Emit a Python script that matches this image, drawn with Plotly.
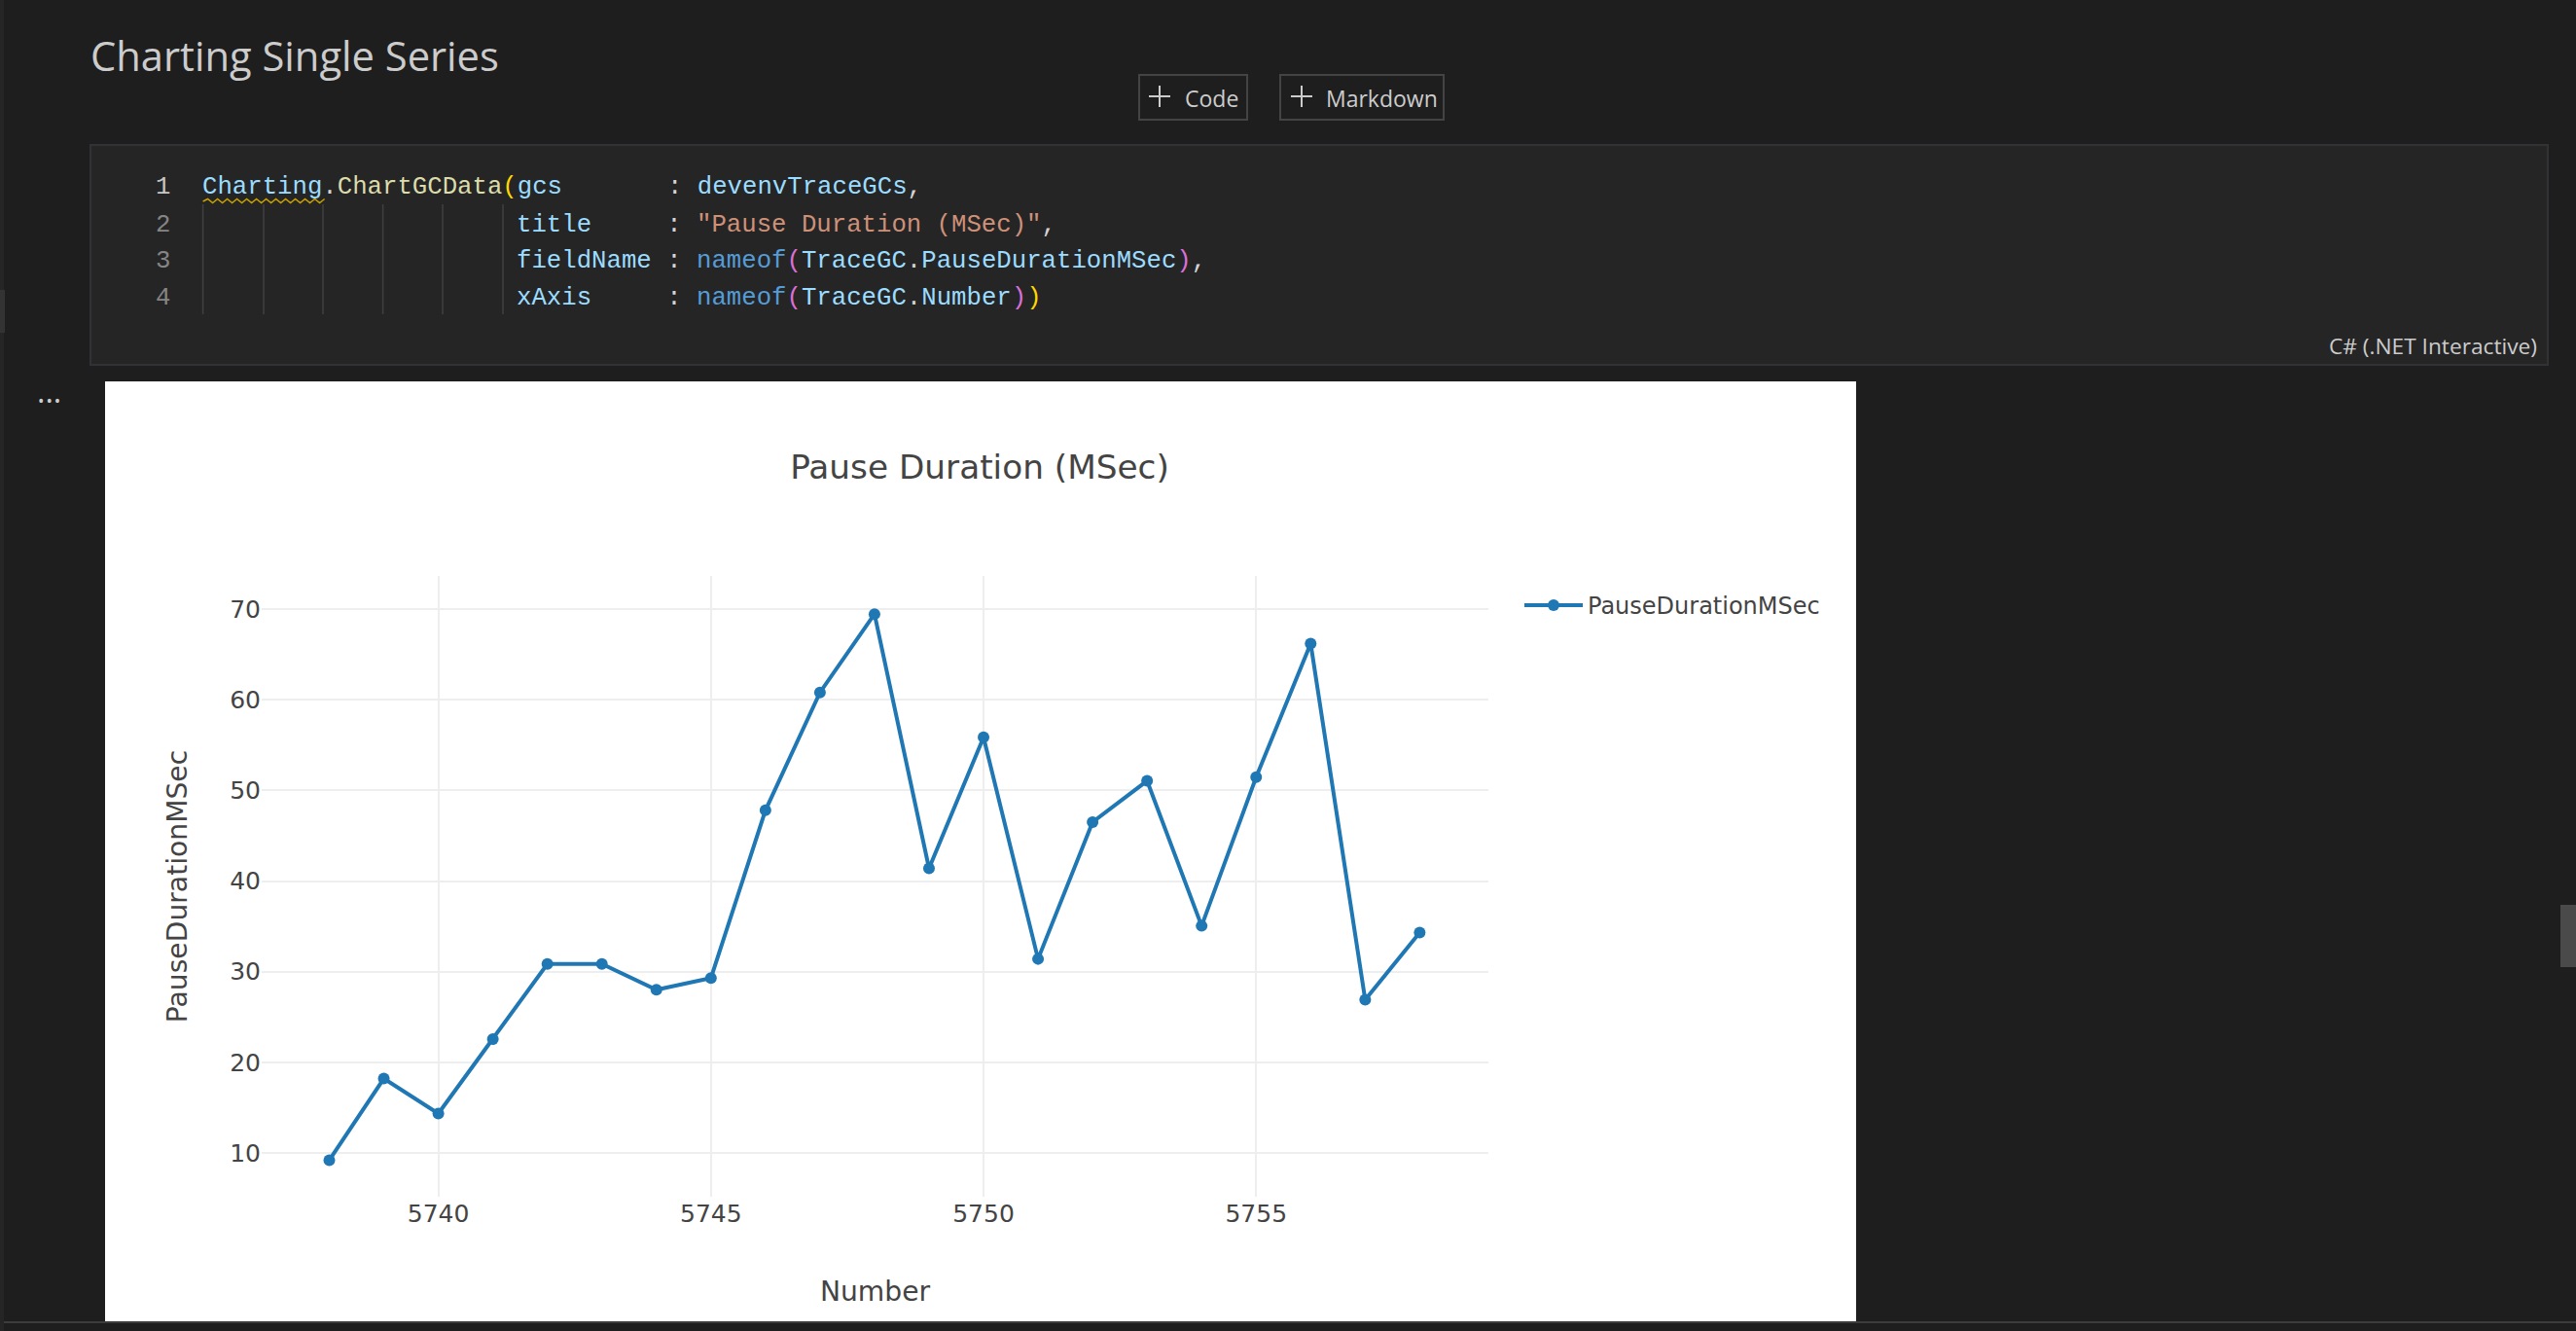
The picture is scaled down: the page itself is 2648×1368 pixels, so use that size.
# %%
import plotly.graph_objects as go

W, H = 2648, 1368

numbers = [5738, 5739, 5740, 5741, 5742, 5743, 5744, 5745, 5746, 5747, 5748,
           5749, 5750, 5751, 5752, 5753, 5754, 5755, 5756, 5757, 5758]
pause_ms = [9.2, 18.2, 14.35, 22.55, 30.85, 30.85, 28.0, 29.3, 47.8, 60.8, 69.45,
            41.4, 55.85, 31.4, 46.5, 51.05, 35.05, 51.45, 66.2, 26.9, 34.3]
x_ticks = [5740, 5745, 5750, 5755]
y_ticks = [10, 20, 30, 40, 50, 60, 70]

VAR, FN, GOLD, STR, KW, PINK, PUNC = "#9cdcfe", "#dcdcaa", "#ffd700", "#ce9178", "#569cd6", "#da70d6", "#d4d4d4"
code_lines = [
    [("Charting", VAR), (".", PUNC), ("ChartGCData", FN), ("(", GOLD), ("gcs", VAR),
     ("       : ", PUNC), ("devenvTraceGCs", VAR), (",", PUNC)],
    [("title", VAR), ("     : ", PUNC), ('"Pause Duration (MSec)"', STR), (",", PUNC)],
    [("fieldName", VAR), (" : ", PUNC), ("nameof", KW), ("(", PINK), ("TraceGC", VAR), (".", PUNC),
     ("PauseDurationMSec", VAR), (")", PINK), (",", PUNC)],
    [("xAxis", VAR), ("     : ", PUNC), ("nameof", KW), ("(", PINK), ("TraceGC", VAR), (".", PUNC),
     ("Number", VAR), (")", PINK), (")", GOLD)],
]
code_x = [207.6, 531, 531, 531]
code_y = [192, 231, 268, 306]
guide_x = [208.6, 271, 332, 393.6, 455, 517]
plus_x = [1192, 1338]


def px(x):
    return x / W


def py(y):
    return 1 - y / H


def rect(x0, y0, x1, y1, fill, line=None, lw=2):
    return dict(type="rect", xref="paper", yref="paper", layer="below",
                x0=px(x0), x1=px(x1), y0=py(y0), y1=py(y1), fillcolor=fill,
                line=dict(color=line, width=lw) if line else dict(width=0))


def seg(x0, y0, x1, y1, color, lw=1.5):
    return dict(type="line", xref="paper", yref="paper", layer="below",
                x0=px(x0), x1=px(x1), y0=py(y0), y1=py(y1), line=dict(color=color, width=lw))


def label(text, x, y, size, color, family, anchor="left"):
    return dict(text=text, xref="paper", yref="paper", x=px(x), y=py(y), xanchor=anchor, yanchor="middle",
                showarrow=False, borderpad=0, borderwidth=0, font=dict(size=size, color=color, family=family))


# wavy underline below "Charting"
zig = [(208.6, 207)]
while zig[-1][0] < 332:
    zig.append((zig[-1][0] + 5, 204.5 if len(zig) % 2 else 208.5))
squiggle_path = "M " + " L ".join(f"{px(a)} {py(b)}" for a, b in zig)

shapes = [
    rect(0, 0, 4, H, "#252526"),
    rect(0, 298, 5, 342, "#333333"),
    rect(2632, 930, 2648, 994, "#4a4a4a"),
    rect(4, 1358, W, 1360, "#3c3c3c"),
    rect(93, 149, 2619, 375, "#252526", "#323236"),
    rect(1171, 77, 1282, 123, "#1e1e1e", "#444444"),
    rect(1316, 77, 1484, 123, "#1e1e1e", "#444444"),
    rect(108, 392, 1908, 1358, "#ffffff"),
    dict(type="path", xref="paper", yref="paper", layer="below", path=squiggle_path,
         line=dict(color="#c8a000", width=1.5)),
]
shapes += [seg(x, 210, x, 323, "#404040") for x in guide_x]
for x in plus_x:
    shapes += [seg(x, 88, x, 110, "#cccccc", 2), seg(x - 11, 99, x + 11, 99, "#cccccc", 2)]

MONO = "Liberation Mono"
UI = "Open Sans"
annotations = [
    label("Charting Single Series", 93, 57, 41.7, "#cccccc", UI),
    label("Code", 1218, 101, 23, "#cccccc", UI),
    label("Markdown", 1363, 101, 23, "#cccccc", UI),
    label("C# (.NET Interactive)", 2608, 355, 22.7, "#cccccc", UI, "right"),
    label("...", 50, 401, 32, "#cccccc", UI, "center"),
]
for i, y in enumerate(code_y):
    annotations.append(label(str(i + 1), 175, y, 25.7, "#c6c6c6" if i == 0 else "#858585", MONO, "right"))
    html = "".join(f'<span style="color:{c}">{t}</span>' for t, c in code_lines[i])
    annotations.append(label(html, code_x[i], y, 25.7, PUNC, MONO))

# %%
fig = go.Figure(go.Scatter(
    x=numbers,
    y=pause_ms,
    mode="lines+markers",
    name="PauseDurationMSec",
    line=dict(color="#1f77b4", width=4),
    marker=dict(color="#1f77b4", size=12),
))

fig.update_layout(
    width=W,
    height=H,
    margin=dict(l=0, r=0, t=0, b=0, pad=0),
    paper_bgcolor="#1e1e1e",
    plot_bgcolor="#ffffff",
    font=dict(family="DejaVu Sans", color="#444444", size=25),
    title=dict(text="Pause Duration (MSec)", x=1007 / W, xanchor="center", y=py(480), yanchor="middle",
               font=dict(size=34.3, color="#444444")),
    showlegend=True,
    legend=dict(x=px(1562), y=py(600), xanchor="left", yanchor="top", itemwidth=60,
                bgcolor="rgba(0,0,0,0)", font=dict(size=24, color="#444444")),
    xaxis=dict(
        domain=[px(269), px(1530)],
        range=[5736.76, 5759.26],
        tickvals=x_ticks,
        tickformat="d",
        showgrid=True,
        gridcolor="#eeeeee",
        gridwidth=2,
        zeroline=False,
        showline=False,
        ticks="",
        title=dict(text="Number", standoff=56, font=dict(size=28.2, color="#444444")),
    ),
    yaxis=dict(
        domain=[py(1230), py(592)],
        range=[5.17, 73.65],
        tickvals=y_ticks,
        showgrid=True,
        gridcolor="#eeeeee",
        gridwidth=2,
        zeroline=False,
        showline=False,
        ticks="",
        title=dict(text="PauseDurationMSec", standoff=35, font=dict(size=28.2, color="#444444")),
    ),
    shapes=shapes,
    annotations=annotations,
)

fig.write_html(
    "out.html",
    config={"displayModeBar": False},
    post_script="document.body.style.margin='0';document.body.style.background='#1e1e1e';document.documentElement.style.overflow='hidden';",
)
